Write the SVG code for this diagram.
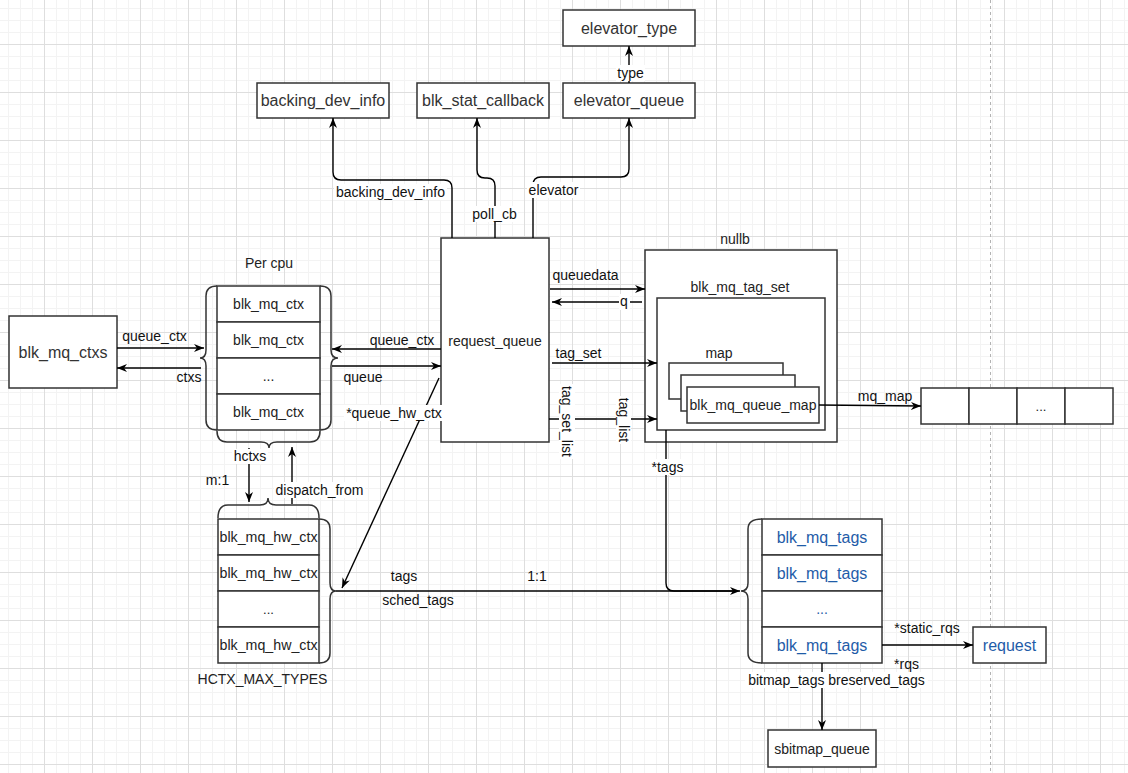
<svg xmlns="http://www.w3.org/2000/svg" width="1128" height="773" viewBox="0 0 1128 773">
<defs>
<pattern id="grid" x="44" y="44" width="48" height="48" patternUnits="userSpaceOnUse">
<rect width="48" height="48" fill="#fff"/>
<path d="M12.5,0V48M24.5,0V48M36.5,0V48M0,12.5H48M0,24.5H48M0,36.5H48" stroke="#f3f3f3" stroke-width="1"/>
<path d="M0.5,0V48M0,0.5H48" stroke="#dedede" stroke-width="1"/>
</pattern>
<marker id="arr" viewBox="0 0 10 10" refX="10" refY="5" markerWidth="10" markerHeight="10" markerUnits="userSpaceOnUse" orient="auto">
<path d="M0,1 L10,5 L0,9 L3,5 Z" fill="#000"/>
</marker>
</defs>
<style>
.box{fill:#fff;stroke:#333;stroke-width:1.5}
.brace{fill:none;stroke:#333;stroke-width:1.5}
.edge{fill:none;stroke:#000;stroke-width:1.4}
.arr{marker-end:url(#arr)}
text{font-family:"Liberation Sans",Arial,sans-serif;text-anchor:middle;dominant-baseline:central}
.t16{font-size:16px;fill:#333}
.t14{font-size:14px;fill:#222}
.t13{font-size:13px;fill:#222}
.hw{font-size:14px;fill:#222}
.blue{font-size:16px;fill:#1f5ca8}
.lbl{font-size:14px;fill:#111}
.bg{fill:#fff}
</style>
<g id="background">
<rect width="1128" height="773" fill="url(#grid)"/>
<line x1="990.5" y1="0" x2="990.5" y2="773" stroke="#b3b3b3" stroke-width="1" stroke-dasharray="3 3"/>
</g>

<g id="blk_mq_ctxs">
<rect class="box" x="9" y="316" width="108" height="72"/>
<text class="t16" x="63" y="352">blk_mq_ctxs</text>
</g>

<g id="per_cpu">
<text class="t14" x="269" y="263">Per cpu</text>
<rect class="box" x="217" y="286" width="103" height="36"/>
<rect class="box" x="217" y="322" width="103" height="36"/>
<rect class="box" x="217" y="358" width="103" height="36"/>
<rect class="box" x="217" y="394" width="103" height="36"/>
<text class="t14" x="268.5" y="304">blk_mq_ctx</text>
<text class="t14" x="268.5" y="340">blk_mq_ctx</text>
<text class="t14" x="268.5" y="376">...</text>
<text class="t14" x="268.5" y="412">blk_mq_ctx</text>
<path class="brace" d="M217,286 Q206,286 206,296 L206,350 Q206,358 200,358 Q206,358 206,366 L206,420 Q206,430 217,430"/>
<path class="brace" d="M320,286 Q331,286 331,296 L331,350 Q331,358 338,358 Q331,358 331,366 L331,420 Q331,430 320,430"/>
<path class="brace" d="M217,431 Q217,442 227,442 L261,442 Q269,442 269,448 Q269,442 277,442 L310,442 Q320,442 320,431"/>
</g>

<g id="request_queue">
<rect class="box" x="441" y="238" width="108" height="204"/>
<text class="t14" x="495" y="341">request_queue</text>
</g>

<g id="backing_dev_info">
<rect class="box" x="257" y="83" width="132" height="35"/>
<text class="t16" x="323" y="100.5">backing_dev_info</text>
</g>
<g id="blk_stat_callback">
<rect class="box" x="417" y="83" width="132" height="35"/>
<text class="t16" x="483" y="100.5">blk_stat_callback</text>
</g>
<g id="elevator_queue">
<rect class="box" x="563" y="83" width="132" height="35"/>
<text class="t16" x="629" y="100.5">elevator_queue</text>
</g>
<g id="elevator_type">
<rect class="box" x="563" y="10" width="132" height="36"/>
<text class="t16" x="629" y="28">elevator_type</text>
</g>

<g id="nullb">
<text class="t14" x="735" y="239">nullb</text>
<rect class="box" x="645" y="250" width="192" height="192"/>
</g>
<g id="blk_mq_tag_set">
<text class="t14" x="740" y="287">blk_mq_tag_set</text>
<rect class="box" x="657" y="298" width="168" height="132"/>
</g>
<g id="map">
<text class="t14" x="719" y="353">map</text>
<rect class="box" x="669" y="363" width="114" height="36"/>
<rect class="box" x="681" y="375" width="114" height="36"/>
<rect class="box" x="687" y="387" width="132" height="36"/>
<text class="t14" x="753" y="405">blk_mq_queue_map</text>
</g>

<g id="mq_map_array">
<rect class="box" x="921" y="388" width="48" height="36"/>
<rect class="box" x="969" y="388" width="48" height="36"/>
<rect class="box" x="1017" y="388" width="48" height="36"/>
<rect class="box" x="1065" y="388" width="48" height="36"/>
<text class="t13" x="1041" y="406">...</text>
</g>

<g id="blk_mq_hw_ctx">
<rect class="box" x="218" y="519" width="101" height="36"/>
<rect class="box" x="218" y="555" width="101" height="36"/>
<rect class="box" x="218" y="591" width="101" height="36"/>
<rect class="box" x="218" y="627" width="101" height="36"/>
<text class="hw" x="268.5" y="537" textLength="98" lengthAdjust="spacingAndGlyphs">blk_mq_hw_ctx</text>
<text class="hw" x="268.5" y="573" textLength="98" lengthAdjust="spacingAndGlyphs">blk_mq_hw_ctx</text>
<text class="t13" x="268.5" y="609">...</text>
<text class="hw" x="268.5" y="645" textLength="98" lengthAdjust="spacingAndGlyphs">blk_mq_hw_ctx</text>
<path class="brace" d="M218,518 Q218,505 228,505 L260,505 Q268,505 268,498 Q268,505 276,505 L309,505 Q319,505 319,518"/>
<path class="brace" d="M319,519 Q330,519 330,529 L330,583 Q330,591 336,591 Q330,591 330,599 L330,653 Q330,663 319,663"/>
<text class="t14" x="262.5" y="679">HCTX_MAX_TYPES</text>
</g>

<g id="blk_mq_tags">
<rect class="box" x="762" y="519" width="120" height="36"/>
<rect class="box" x="762" y="555" width="120" height="36"/>
<rect class="box" x="762" y="591" width="120" height="36"/>
<rect class="box" x="762" y="627" width="120" height="36"/>
<text class="blue" x="822" y="537">blk_mq_tags</text>
<text class="blue" x="822" y="573">blk_mq_tags</text>
<text class="blue" x="822" y="609" style="font-size:14px">...</text>
<text class="blue" x="822" y="645">blk_mq_tags</text>
<path class="brace" d="M762,519 Q748,519 748,529 L748,583 Q748,591 741,591 Q748,591 748,599 L748,653 Q748,663 762,663"/>
</g>

<g id="request">
<rect class="box" x="973" y="627" width="73" height="36"/>
<text class="blue" x="1009.5" y="645">request</text>
</g>

<g id="sbitmap_queue">
<rect class="box" x="768" y="730" width="108" height="37"/>
<text class="t14" x="822" y="748.5">sbitmap_queue</text>
</g>

<g id="connectors">
<path class="edge arr" d="M117,348 L204,348"/>
<text class="lbl" x="154.5" y="336">queue_ctx</text>
<path class="edge arr" d="M201,368 L117,368"/>
<text class="lbl" x="189" y="377">ctxs</text>
<path class="edge arr" d="M441,349 L332,349"/>
<text class="lbl" x="402" y="340">queue_ctx</text>
<path class="edge arr" d="M332,366 L441,366"/>
<text class="lbl" x="363" y="377">queue</text>

<path class="edge arr" d="M439,378 L342,588"/>
<rect class="bg" x="344" y="405" width="100" height="16"/>
<text class="lbl" x="394" y="413">*queue_hw_ctx</text>

<path class="edge arr" d="M249,448 L249,502"/>
<rect class="bg" x="232" y="449" width="36" height="15"/>
<text class="lbl" x="250" y="456">hctxs</text>
<text class="lbl" x="217.5" y="480">m:1</text>

<path class="edge arr" d="M292,504 L292,447"/>
<rect class="bg" x="274" y="482" width="91" height="16"/>
<text class="lbl" x="319.5" y="490">dispatch_from</text>

<path class="edge arr" d="M336,591 L740,591"/>
<text class="lbl" x="404" y="576">tags</text>
<text class="lbl" x="537" y="576">1:1</text>
<text class="lbl" x="418" y="600">sched_tags</text>

<path class="edge" d="M666,430 L666,583 Q666,591 674,591 L736,591"/>
<rect class="bg" x="651" y="459" width="33" height="16"/>
<text class="lbl" x="667.5" y="467">*tags</text>

<path class="edge arr" d="M550,289 L645,289"/>
<text class="lbl" x="585.5" y="275">queuedata</text>
<path class="edge arr" d="M642,302 L552,302"/>
<rect class="bg" x="619" y="294" width="11" height="16"/>
<text class="lbl" x="624" y="301">q</text>

<path class="edge arr" d="M552,363 L657,363"/>
<text class="lbl" x="578.5" y="353">tag_set</text>

<path class="edge arr" d="M549,419 L657,419"/>
<rect class="bg" x="559" y="384" width="16" height="75"/>
<text class="lbl" transform="translate(567,421.5) rotate(90)">tag_set_list</text>
<rect class="bg" x="616" y="396" width="15" height="48"/>
<text class="lbl" transform="translate(623.5,420) rotate(90)">tag_list</text>

<path class="edge arr" d="M819,405 L921,406"/>
<text class="lbl" x="885" y="395.5">mq_map</text>

<path class="edge arr" d="M452,238 L452,188 Q452,180 444,180 L341,180 Q333,180 333,172 L333,118"/>
<rect class="bg" x="334" y="184" width="113" height="16"/>
<text class="lbl" x="390.5" y="192">backing_dev_info</text>

<path class="edge arr" d="M495,238 L495,186 Q495,178 487,178 L485,178 Q477,178 477,170 L477,118"/>
<rect class="bg" x="471" y="206" width="47" height="16"/>
<text class="lbl" x="494.5" y="214">poll_cb</text>

<path class="edge arr" d="M533,238 L533,185 Q533,177 541,177 L621,177 Q629,177 629,169 L629,118"/>
<rect class="bg" x="527" y="182" width="53" height="16"/>
<text class="lbl" x="553.5" y="190">elevator</text>

<path class="edge arr" d="M629,83 L629,46"/>
<rect class="bg" x="616" y="65" width="29" height="16"/>
<text class="lbl" x="630.5" y="73">type</text>

<path class="edge arr" d="M882,645 L973,645"/>
<text class="lbl" x="927" y="628">*static_rqs</text>
<text class="lbl" x="906.5" y="664">*rqs</text>

<path class="edge arr" d="M822,663 L822,730"/>
<rect class="bg" x="745" y="672" width="183" height="16"/>
<text class="lbl" x="836.5" y="680">bitmap_tags breserved_tags</text>
</g>
</svg>
